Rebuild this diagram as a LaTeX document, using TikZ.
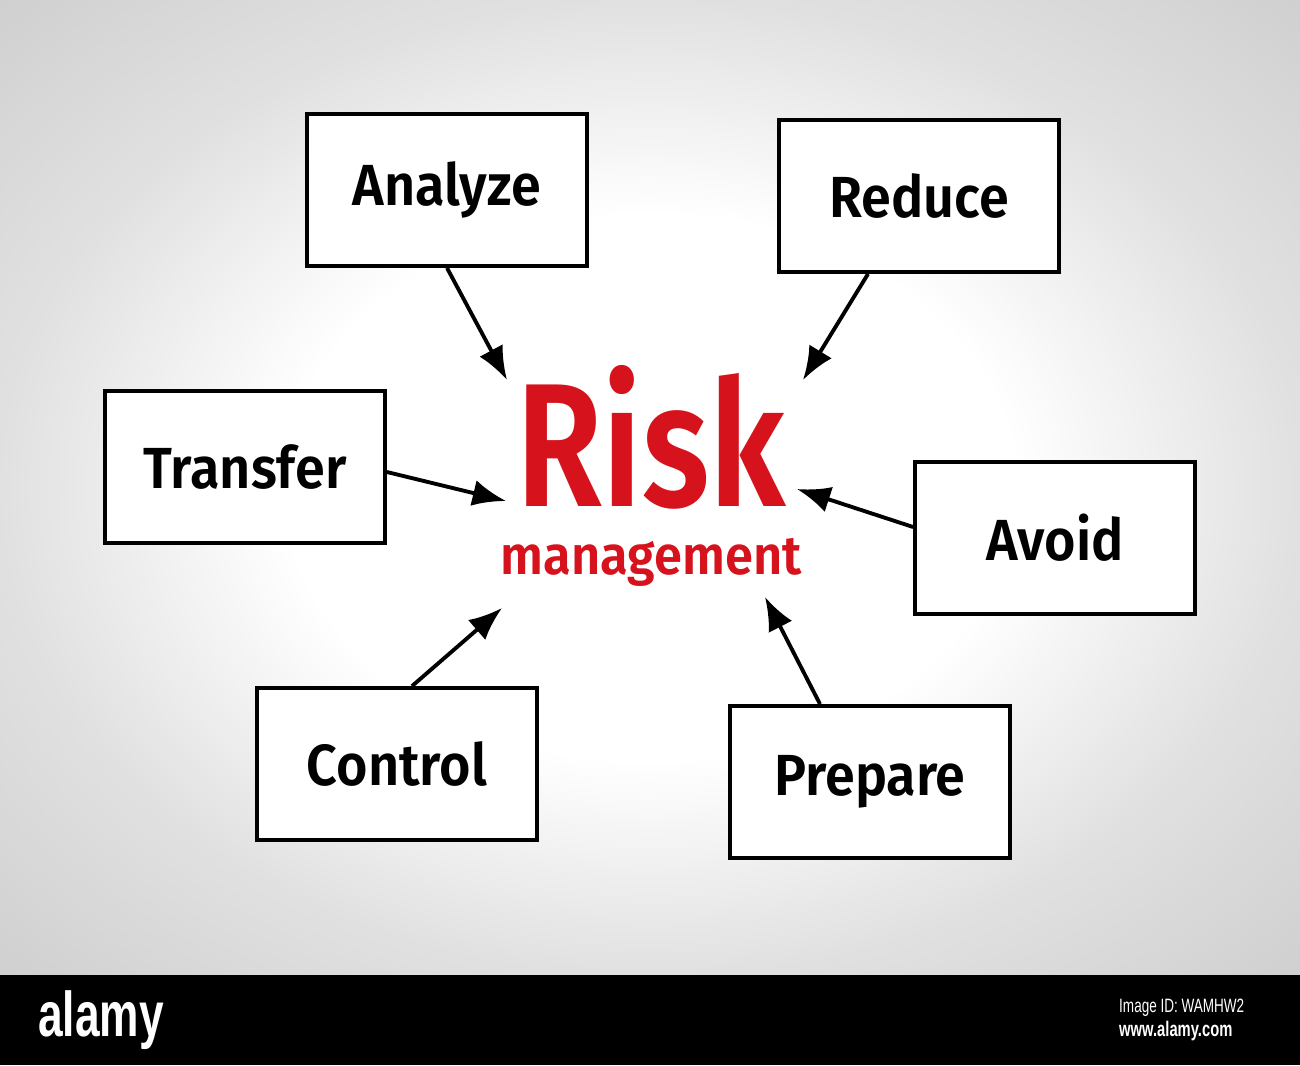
\documentclass[tikz,border=0pt]{standalone}
\usepackage{fontspec}
\setmainfont{Fira Sans}
\newfontfamily\handfont[FakeStretch=0.93]{Fira Sans SemiBold}
\newfontfamily\riskfont[FakeStretch=0.8]{Fira Sans SemiBold}
\newfontfamily\markfont[FakeStretch=0.7]{Liberation Sans}
\usepackage{tikz}
\usetikzlibrary{arrows.meta,calc}

\definecolor{riskred}{RGB}{214,18,28}
\pgfdeclareradialshading{vignette}{\pgfpoint{0bp}{0bp}}{%
  color(0bp)=(white); color(14bp)=(white); color(25bp)=(black!12); color(36bp)=(black!19); color(50bp)=(black!19)}

\begin{document}
\begin{tikzpicture}[
        x=0.02cm,y=-0.02cm,
        box/.style={
          draw,
          fill=white,
          line width=2.2pt,
          minimum width=5.6cm,
          minimum height=3.04cm,
          inner sep=0pt,
          font=\handfont\fontsize{33}{38}\selectfont
        },
        arr/.style={
          line width=2.2pt,
          -{Latex[length=19pt,width=15pt]}
        },
        risk/.style={
          text=riskred,
          inner sep=0pt,
          text depth=0pt,
          anchor=base
        }
        ]
        \useasboundingbox (0,0) rectangle (1300,1065);
        \shade[shading=vignette] (0,0) rectangle (1300,975);
        \fill[black] (0,975) rectangle (1300,1065);

        \node[box] (analyze) at (447,190) {Analyze};
        \node[box] (reduce) at (919,196) {Reduce};
        \node[box] (transfer) at (245,467) {Transfer};
        \node[box] (avoid) at (1055,538) {Avoid};
        \node[box] (control) at (397,764) {Control};
        \node[box] (prepare) at (870,782) {Prepare};

        \node[risk,font=\riskfont\fontsize{100}{110}\selectfont] (risk) at (651,506) {Risk};
        \node[risk,font=\handfont\fontsize{31}{36}\selectfont] (mgmt) at (651,574) {management};

        % free ends near the title
        \coordinate (ta) at (507,380);
        \coordinate (tr) at (803,380);
        \coordinate (tt) at (506,501);
        \coordinate (tv) at (797,489);
        \coordinate (tc) at (502,608);
        \coordinate (tp) at (765,597);

        \draw[arr] (analyze.south) -- (ta);
        \draw[arr] ($(reduce.south)+(-51,0)$) -- (tr);
        \draw[arr] ($(transfer.east)+(0,5)$) -- (tt);
        \draw[arr] ($(avoid.west)+(0,-11)$) -- (tv);
        \draw[arr] ($(control.north)+(15,0)$) -- (tc);
        \draw[arr] ($(prepare.north)+(-50,0)$) -- (tp);

        \node[text=white,font=\markfont\bfseries\fontsize{36}{40}\selectfont] (logo) at (101,1020) {alamy};
        \node[text=white,anchor=west,font=\markfont\fontsize{11}{13}\selectfont] (imgid) at (1113,1008) {Image ID: WAMHW2};
        \node[text=white,anchor=west,font=\markfont\bfseries\fontsize{12}{14}\selectfont] (www) at (1113,1031) {www.alamy.com};
    \end{tikzpicture}
\end{document}
